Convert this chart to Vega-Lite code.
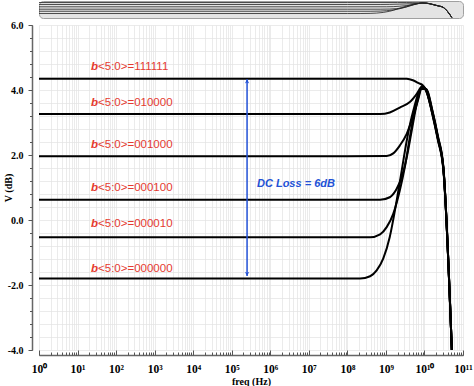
{
  "$schema": "https://vega.github.io/schema/vega-lite/v6.json",
  "background": "white",
  "padding": {"left": 3, "top": 0, "right": 0, "bottom": 0},
  "bounds": "flush",
  "spacing": 7,
  "config": {"view": {"stroke": null}},
  "resolve": {"scale": {"x": "independent", "y": "independent"}},
  "datasets": {
    "curves": [
      {"c": "111111", "f": 1, "v": 4.35}, {"c": "111111", "f": 1e8, "v": 4.35}, {"c": "111111", "f": 1.995e9, "v": 4.35}, {"c": "111111", "f": 3.467e9, "v": 4.345}, {"c": "111111", "f": 5.012e9, "v": 4.3}, {"c": "111111", "f": 7.079e9, "v": 4.21}, {"c": "111111", "f": 9.12e9, "v": 4.14}, {"c": "111111", "f": 1.122e10, "v": 3.95}, {"c": "111111", "f": 1.585e10, "v": 3.32}, {"c": "111111", "f": 2.239e10, "v": 2.5}, {"c": "111111", "f": 3.09e10, "v": 1.6}, {"c": "111111", "f": 5.129e10, "v": -4.0},
      {"c": "010000", "f": 1, "v": 3.26}, {"c": "010000", "f": 1e8, "v": 3.26}, {"c": "010000", "f": 7.079e8, "v": 3.26}, {"c": "010000", "f": 1.259e9, "v": 3.31}, {"c": "010000", "f": 2.291e9, "v": 3.46}, {"c": "010000", "f": 4.169e9, "v": 3.63}, {"c": "010000", "f": 6.31e9, "v": 3.88}, {"c": "010000", "f": 8.913e9, "v": 4.12}, {"c": "010000", "f": 1.122e10, "v": 3.97}, {"c": "010000", "f": 1.585e10, "v": 3.3}, {"c": "010000", "f": 2.239e10, "v": 2.48}, {"c": "010000", "f": 3.09e10, "v": 1.58}, {"c": "010000", "f": 5.129e10, "v": -4.0},
      {"c": "001000", "f": 1, "v": 1.96}, {"c": "001000", "f": 1e8, "v": 1.96}, {"c": "001000", "f": 1.047e9, "v": 1.97}, {"c": "001000", "f": 1.549e9, "v": 2.05}, {"c": "001000", "f": 2.291e9, "v": 2.29}, {"c": "001000", "f": 3.467e9, "v": 2.65}, {"c": "001000", "f": 5.129e9, "v": 3.21}, {"c": "001000", "f": 6.918e9, "v": 3.72}, {"c": "001000", "f": 8.71e9, "v": 4.1}, {"c": "001000", "f": 1.122e10, "v": 3.98}, {"c": "001000", "f": 1.585e10, "v": 3.28}, {"c": "001000", "f": 2.239e10, "v": 2.45}, {"c": "001000", "f": 3.09e10, "v": 1.55}, {"c": "001000", "f": 5.129e10, "v": -4.0},
      {"c": "000100", "f": 1, "v": 0.62}, {"c": "000100", "f": 1e8, "v": 0.62}, {"c": "000100", "f": 7.079e8, "v": 0.62}, {"c": "000100", "f": 1.259e9, "v": 0.7}, {"c": "000100", "f": 1.905e9, "v": 0.96}, {"c": "000100", "f": 2.57e9, "v": 1.32}, {"c": "000100", "f": 3.467e9, "v": 1.93}, {"c": "000100", "f": 4.677e9, "v": 2.75}, {"c": "000100", "f": 6.31e9, "v": 3.57}, {"c": "000100", "f": 8.71e9, "v": 4.08}, {"c": "000100", "f": 1.122e10, "v": 4.0}, {"c": "000100", "f": 1.585e10, "v": 3.35}, {"c": "000100", "f": 2.239e10, "v": 2.52}, {"c": "000100", "f": 3.09e10, "v": 1.6}, {"c": "000100", "f": 5.129e10, "v": -4.0},
      {"c": "000010", "f": 1, "v": -0.53}, {"c": "000010", "f": 1e8, "v": -0.53}, {"c": "000010", "f": 3.89e8, "v": -0.53}, {"c": "000010", "f": 7.079e8, "v": -0.44}, {"c": "000010", "f": 1.047e9, "v": -0.22}, {"c": "000010", "f": 1.549e9, "v": 0.19}, {"c": "000010", "f": 2.291e9, "v": 0.91}, {"c": "000010", "f": 3.09e9, "v": 1.62}, {"c": "000010", "f": 4.169e9, "v": 2.54}, {"c": "000010", "f": 5.623e9, "v": 3.36}, {"c": "000010", "f": 8.511e9, "v": 4.06}, {"c": "000010", "f": 1.122e10, "v": 4.02}, {"c": "000010", "f": 1.585e10, "v": 3.38}, {"c": "000010", "f": 2.239e10, "v": 2.55}, {"c": "000010", "f": 3.09e10, "v": 1.62}, {"c": "000010", "f": 5.129e10, "v": -4.0},
      {"c": "000000", "f": 1, "v": -1.8}, {"c": "000000", "f": 1e8, "v": -1.8}, {"c": "000000", "f": 2.138e8, "v": -1.8}, {"c": "000000", "f": 3.89e8, "v": -1.73}, {"c": "000000", "f": 5.754e8, "v": -1.55}, {"c": "000000", "f": 8.511e8, "v": -1.19}, {"c": "000000", "f": 1.259e9, "v": -0.52}, {"c": "000000", "f": 1.905e9, "v": 0.6}, {"c": "000000", "f": 2.57e9, "v": 1.52}, {"c": "000000", "f": 3.467e9, "v": 2.44}, {"c": "000000", "f": 5.129e9, "v": 3.36}, {"c": "000000", "f": 8.318e9, "v": 4.03}, {"c": "000000", "f": 1.122e10, "v": 4.03}, {"c": "000000", "f": 1.585e10, "v": 3.4}, {"c": "000000", "f": 2.239e10, "v": 2.58}, {"c": "000000", "f": 3.09e10, "v": 1.65}, {"c": "000000", "f": 5.129e10, "v": -4.0}
    ],
    "labels": [
      {"f": 34, "v": 4.71, "b": "b", "rest": "<5:0>=111111"},
      {"f": 34, "v": 3.6, "b": "b", "rest": "<5:0>=010000"},
      {"f": 34, "v": 2.32, "b": "b", "rest": "<5:0>=001000"},
      {"f": 34, "v": 0.97, "b": "b", "rest": "<5:0>=000100"},
      {"f": 34, "v": -0.13, "b": "b", "rest": "<5:0>=000010"},
      {"f": 34, "v": -1.52, "b": "b", "rest": "<5:0>=000000"}
    ],
    "arrow": [{"f": 250000, "top": 4.33, "bottom": -1.72}],
    "note": [{"f": 452000, "v": 1.12, "text": "DC Loss = 6dB"}]
  },
  "vconcat": [
    {
      "width": 424,
      "height": 17,
      "view": {"fill": "#e4e4e4", "stroke": "#a0a0a0", "cornerRadius": 4},
      "data": {"name": "curves"},
      "mark": {"type": "line", "interpolate": "monotone", "color": "#222", "strokeWidth": 0.8, "clip": true},
      "encoding": {
        "x": {"field": "f", "type": "quantitative", "scale": {"type": "log", "domain": [1, 1e11], "nice": false}, "axis": null},
        "y": {"field": "v", "type": "quantitative", "scale": {"domain": [-4.3, 5.2], "nice": false, "zero": false}, "axis": null},
        "detail": {"field": "c"}
      }
    },
    {
      "width": 424,
      "height": 325,
      "resolve": {"axis": {"x": "independent", "y": "independent"}},
      "layer": [
        {
          "data": {"name": "curves"},
          "mark": {"type": "line", "interpolate": "monotone", "color": "#000", "strokeWidth": 2},
          "encoding": {
            "x": {
              "field": "f", "type": "quantitative",
              "scale": {"type": "log", "domain": [1, 1e11], "nice": false},
              "axis": {
                "orient": "bottom",
                "title": "freq (Hz)",
                "values": [1,10,100,1000,1e4,1e5,1e6,1e7,1e8,1e9,1e10,1e11],
                "labelExpr": "'10' + ['⁰','¹','²','³','⁴','⁵','⁶','⁷','⁸','⁹','¹⁰','¹¹'][round(log(datum.value)/LN10)]",
                "labelOverlap": false, "labelFlush": false, "labelBound": false,
                "tickSize": -5, "tickColor": "#555", "tickWidth": 1,
                "domainColor": "#666", "domainWidth": 1.5, "offset": 5, "grid": false,
                "labelFont": "Liberation Serif", "labelFontWeight": "bold", "labelFontSize": 11.5, "labelColor": "#000", "labelPadding": 13,
                "titleFont": "Liberation Serif", "titleFontWeight": "bold", "titleFontSize": 10, "titleColor": "#000", "titlePadding": 2
              }
            },
            "y": {
              "field": "v", "type": "quantitative",
              "scale": {"domain": [-4, 6], "nice": false, "zero": false},
              "axis": {
                "orient": "left",
                "title": "V (dB)",
                "values": [-4, -2, 0, 2, 4, 6],
                "labelExpr": "(datum.value < 0 ? '-' : '') + format(abs(datum.value), '.1f')",
                "labelOverlap": false, "labelFlush": false, "labelBound": false,
                "tickSize": 4, "tickColor": "#555", "domainColor": "#666", "domainWidth": 1.5, "offset": 7, "grid": false,
                "labelFont": "Liberation Serif", "labelFontWeight": "bold", "labelFontSize": 10, "labelColor": "#000", "labelPadding": 5,
                "titleFont": "Liberation Serif", "titleFontWeight": "bold", "titleFontSize": 10, "titleColor": "#000", "titlePadding": -6
              }
            },
            "detail": {"field": "c"}
          }
        },
        {
          "data": {"name": "arrow"},
          "mark": {"type": "rule", "color": "#2251d6", "strokeWidth": 1.5},
          "encoding": {
            "x": {"field": "f", "type": "quantitative", "axis": null},
            "y": {"field": "top", "type": "quantitative", "axis": null},
            "y2": {"field": "bottom"}
          }
        },
        {
          "data": {"name": "arrow"},
          "mark": {"type": "point", "shape": "M 0 0 L 0.8 1.5 L 0 1.1 L -0.8 1.5 Z", "filled": true, "color": "#2251d6", "size": 30, "opacity": 1},
          "encoding": {
            "x": {"field": "f", "type": "quantitative", "axis": null},
            "y": {"field": "top", "type": "quantitative", "axis": null}
          }
        },
        {
          "data": {"name": "arrow"},
          "mark": {"type": "point", "shape": "M 0 0 L 0.8 -1.5 L 0 -1.1 L -0.8 -1.5 Z", "filled": true, "color": "#2251d6", "size": 30, "opacity": 1},
          "encoding": {
            "x": {"field": "f", "type": "quantitative", "axis": null},
            "y": {"field": "bottom", "type": "quantitative", "axis": null}
          }
        },
        {
          "data": {"name": "labels"},
          "mark": {"type": "text", "align": "right", "baseline": "middle", "font": "Liberation Sans", "fontSize": 11.5, "fontStyle": "italic", "fontWeight": "bold", "color": "#e53a2f"},
          "encoding": {
            "x": {"field": "f", "type": "quantitative", "axis": null},
            "y": {"field": "v", "type": "quantitative", "axis": null},
            "text": {"field": "b"}
          }
        },
        {
          "data": {"name": "labels"},
          "mark": {"type": "text", "align": "left", "baseline": "middle", "font": "Liberation Sans", "fontSize": 11.5, "color": "#e53a2f"},
          "encoding": {
            "x": {"field": "f", "type": "quantitative", "axis": null},
            "y": {"field": "v", "type": "quantitative", "axis": null},
            "text": {"field": "rest"}
          }
        },
        {
          "data": {"name": "note"},
          "mark": {"type": "text", "align": "left", "baseline": "middle", "font": "Liberation Sans", "fontSize": 11, "fontStyle": "italic", "fontWeight": "bold", "color": "#2251d6"},
          "encoding": {
            "x": {
              "field": "f", "type": "quantitative",
              "axis": {
                "orient": "bottom", "title": null, "labels": false, "domain": false,
                "values": [1,2,3,4,5,6,7,8,9,10,20,30,40,50,60,70,80,90,100,200,300,400,500,600,700,800,900,1000,2000,3000,4000,5000,6000,7000,8000,9000,1e4,2e4,3e4,4e4,5e4,6e4,7e4,8e4,9e4,1e5,2e5,3e5,4e5,5e5,6e5,7e5,8e5,9e5,1e6,2e6,3e6,4e6,5e6,6e6,7e6,8e6,9e6,1e7,2e7,3e7,4e7,5e7,6e7,7e7,8e7,9e7,1e8,2e8,3e8,4e8,5e8,6e8,7e8,8e8,9e8,1e9,2e9,3e9,4e9,5e9,6e9,7e9,8e9,9e9,1e10,2e10,3e10,4e10,5e10,6e10,7e10,8e10,9e10,1e11],
                "tickSize": -3, "tickColor": "#555", "tickWidth": 1, "offset": 5,
                "grid": true, "gridColor": "#e3e3e3", "gridWidth": 0.7
              }
            },
            "y": {
              "field": "v", "type": "quantitative",
              "axis": {
                "orient": "left", "title": null, "labels": false, "domain": false,
                "values": [-4,-3.6,-3.2,-2.8,-2.4,-2,-1.6,-1.2,-0.8,-0.4,0,0.4,0.8,1.2,1.6,2,2.4,2.8,3.2,3.6,4,4.4,4.8,5.2,5.6,6],
                "tickSize": 2.5, "tickColor": "#555", "offset": 7,
                "grid": true, "gridColor": "#e3e3e3", "gridWidth": 0.7
              }
            },
            "text": {"field": "text"}
          }
        }
      ]
    }
  ]
}
